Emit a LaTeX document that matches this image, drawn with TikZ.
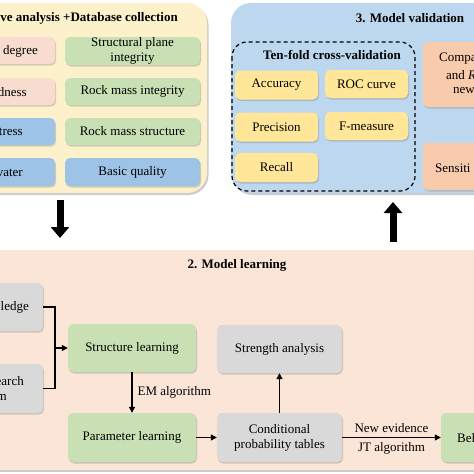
\documentclass[tikz,border=0pt]{standalone}
\usepackage{fontspec}
\setmainfont{Liberation Serif}
\usetikzlibrary{arrows.meta,shadows}
\definecolor{cream}{HTML}{FDF1CC}
\definecolor{pinkbox}{HTML}{F9DCD0}
\definecolor{greenbox}{HTML}{C8E0B4}
\definecolor{bluebox}{HTML}{9DC3E6}
\definecolor{bluepanel}{HTML}{BDD7EE}
\definecolor{yellowbox}{HTML}{FFE699}
\definecolor{orangebox}{HTML}{F8CBAD}
\definecolor{peach}{HTML}{FBE5D6}
\definecolor{graybox}{HTML}{D9D9D9}
\begin{document}
\begin{tikzpicture}[x=1pt,y=-1pt,
  txt/.style={font=\fontsize{13}{15}\selectfont, inner sep=0pt, align=center},
  ttl/.style={font=\fontsize{13}{15}\selectfont\bfseries, inner sep=0pt},
  box/.style={draw=none, rounded corners=5pt, inner sep=0pt, align=center,
    font=\fontsize{13}{15}\selectfont,
    drop shadow={shadow xshift=1pt, shadow yshift=-1.5pt, opacity=0.35}},
  panel/.style={draw=none, rounded corners=20pt, inner sep=0pt,
    drop shadow={shadow xshift=1.5pt, shadow yshift=-2pt, opacity=0.4}},
  arr/.style={line width=1.2pt, -{Triangle[length=6pt,width=6pt]}},
  blockarrow/.style={line width=7pt, -{Triangle[length=11pt,width=18pt]}}
]
\useasboundingbox (0,0) rectangle (474,474);
\clip (0,0) rectangle (474,474);
\fill[white] (0,0) rectangle (474,474);

% ---------- panels ----------
\node[panel, fill=cream, minimum width=400pt, minimum height=190pt] (p1) at (7,98) {};
\node[panel, fill=bluepanel, minimum width=500pt, minimum height=190pt] (p3) at (481,98) {};
\node[panel, fill=peach, rounded corners=0pt, minimum width=514pt, minimum height=220pt] (p2) at (237,360) {};

% ---------- panel 1 ----------
\node[ttl, anchor=east] (t1) at (178,18) {ve analysis +Database collection};
\node[box, fill=pinkbox, minimum width=135pt, minimum height=27pt] (a1) at (-12.5,50.5) {};
\node[box, fill=pinkbox, minimum width=135pt, minimum height=27pt] (a2) at (-12.5,91.5) {};
\node[box, fill=bluebox, minimum width=135pt, minimum height=27pt] (a3) at (-12.5,131.5) {};
\node[box, fill=bluebox, minimum width=135pt, minimum height=28pt] (a4) at (-12.5,172) {};
\node[txt, anchor=east] (a1t) at (38,51) {degree};
\node[txt, anchor=east] (a2t) at (27,92) {dness};
\node[txt, anchor=east] (a3t) at (23,132) {tress};
\node[txt, anchor=east] (a4t) at (23,172.5) {vater};
\node[box, fill=greenbox, minimum width=135pt, minimum height=28pt] (b1) at (132.5,51) {Structural plane\\integrity};
\node[box, fill=greenbox, minimum width=135pt, minimum height=27pt] (b2) at (132.5,91.5) {Rock mass integrity};
\node[box, fill=greenbox, minimum width=135pt, minimum height=27pt] (b3) at (132.5,131.5) {Rock mass structure};
\node[box, fill=bluebox, minimum width=135pt, minimum height=28pt] (b4) at (132.5,172) {Basic quality};

% ---------- panel 3 ----------
\node[ttl] (t3) at (410,18) {3. Model validation};
\draw[line width=1.2pt, dash pattern=on 4pt off 3pt, rounded corners=15pt] (232,42) rectangle (415,191);
\node[ttl] (tcv) at (332,55) {Ten-fold cross-validation};
\node[box, fill=yellowbox, minimum width=83pt, minimum height=29pt] (acc) at (276.5,85) {Accuracy};
\node[box, fill=yellowbox, minimum width=83pt, minimum height=28pt] (roc) at (366.5,84) {ROC curve};
\node[box, fill=yellowbox, minimum width=83pt, minimum height=29pt] (pre) at (276.5,127) {Precision};
\node[box, fill=yellowbox, minimum width=83pt, minimum height=28pt] (fm) at (366.5,126) {F-measure};
\node[box, fill=yellowbox, minimum width=83pt, minimum height=29pt] (rec) at (276.5,167.5) {Recall};
\node[box, fill=orangebox, minimum width=137pt, minimum height=65pt] (cmp) at (491.5,74.5) {};
\node[txt, anchor=west] (cmp1) at (439,59) {Compa};
\node[txt, anchor=west] (cmp2) at (446,75) {and \textit{R}};
\node[txt, anchor=west] (cmp3) at (453,90) {new};
\node[box, fill=orangebox, minimum width=137pt, minimum height=47pt] (sen) at (491.5,166.5) {};
\node[txt, anchor=west] (sent) at (435,168) {Sensiti};

% ---------- block arrows ----------
\coordinate (d1) at (60,200);
\coordinate (d2) at (60,238);
\coordinate (u1) at (393,242);
\coordinate (u2) at (393,202);
\draw[blockarrow] (d1) -- (d2);
\draw[blockarrow] (u1) -- (u2);

% ---------- panel 2 ----------
\node[ttl] (t2) at (237,265) {2. Model learning};
\node[box, fill=graybox, minimum width=133pt, minimum height=48pt] (kn) at (-23.5,307) {};
\node[txt, anchor=east] (knt) at (29,307) {ledge};
\node[box, fill=graybox, minimum width=133pt, minimum height=49pt] (se) at (-23.5,388.5) {};
\node[txt, anchor=east] (set1) at (24,381) {earch};
\node[txt, anchor=east] (set2) at (7,397) {m};
\node[box, fill=greenbox, minimum width=128pt, minimum height=48pt] (sl) at (132,348) {Structure learning};
\node[box, fill=greenbox, minimum width=128pt, minimum height=49pt] (pl) at (132,437.5) {Parameter learning};
\node[box, fill=graybox, minimum width=125pt, minimum height=48pt] (sa) at (279.5,349) {Strength analysis};
\node[box, fill=graybox, minimum width=125pt, minimum height=49pt] (cpt) at (279.5,437.5) {Conditional\\probability tables};
\node[box, fill=greenbox, minimum width=119pt, minimum height=49pt] (bel) at (500.5,437.5) {};
\node[txt, anchor=west] (belt) at (457,438) {Bel};

\coordinate (jn) at (55,348);
\draw[line width=1.2pt] (kn.east) -| (jn);
\draw[line width=1.2pt] (se.east) -| (jn);
\draw[arr] (jn) -- (sl.west);
\draw[arr] (sl.south) -- node[txt, right=5pt] (em) {EM algorithm} (pl.north);
\draw[arr] (pl.east) -- (cpt.west);
\draw[arr] (cpt.north) -- (sa.south);
\draw[arr] (cpt.east) -- node[txt, above=4pt] (ne) {New evidence} node[txt, below=4pt] (jt) {JT algorithm} (bel.west);
\end{tikzpicture}
\end{document}
